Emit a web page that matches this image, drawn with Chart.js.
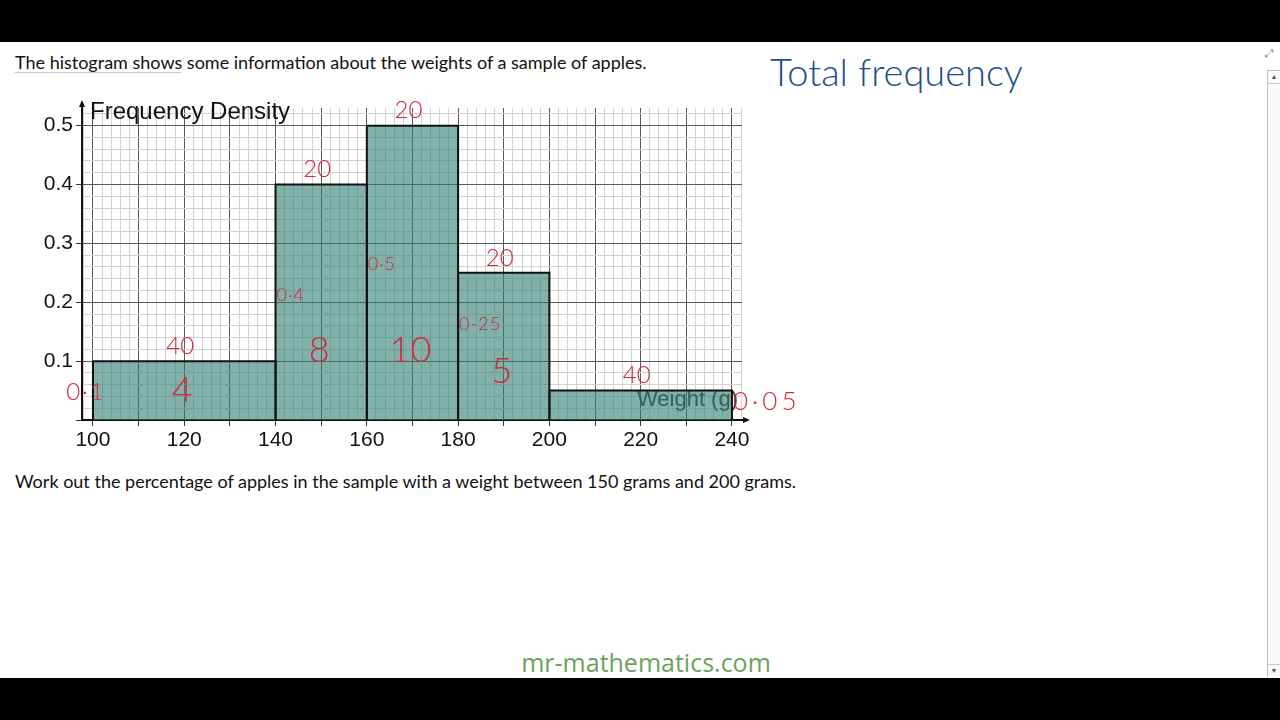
<!DOCTYPE html>
<html>
<head>
<meta charset="utf-8">
<script src="https://cdn.jsdelivr.net/npm/chart.js@4"></script>
<style>
  html, body { margin: 0; padding: 0; background: #000; }
  #page { position: absolute; left: 0; top: 42px; width: 1280px; height: 636px; background: #fff; overflow: hidden; }
  #chart { position: absolute; left: 0; top: 0; z-index: 2; }
  .q { position: absolute; left: 15px; font: 18px "Lato", "Open Sans", sans-serif; color: #111; white-space: nowrap; }
  #q1 { top: 9px; }
  #q1u { position: absolute; left: 15px; top: 30px; width: 166px; height: 1px; background: #c9c9c9; }
  #q2 { top: 428px; }
  #note { position: absolute; left: 770px; top: 6px; font: 300 38px "Lato", sans-serif; color: #1d4d8c; white-space: nowrap; }
  #site { position: absolute; left: 0; width: 1292px; top: 603px; text-align: center; font: 25px "Open Sans", sans-serif; color: #6aa35c; }
  #scroll { position: absolute; left: 1267px; top: 28px; width: 12px; height: 606px; border-left: 1px solid #bdbdbd; border-top: 1px solid #bdbdbd; background: #fafafa; }
  #scroll .up, #scroll .dn { position: absolute; left: 0; width: 12px; height: 12px; font-size: 7px; color: #555; text-align: center; line-height: 12px; }
  #scroll .up { top: 0; border-bottom: 1px solid #ccc; }
  #scroll .dn { bottom: 0; border-top: 1px solid #ccc; }
  #expand { position: absolute; left: 1265px; top: 5px; font-size: 11px; color: #888; }
</style>
</head>
<body>
<div id="page">
  <div class="q" id="q1">The histogram shows some information about the weights of a sample of apples.</div>
  <div id="q1u"></div>
  <div class="q" id="q2">Work out the percentage of apples in the sample with a weight between 150 grams and 200 grams.</div>
  <div id="note">Total frequency</div>
  <div id="site">mr-mathematics.com</div>
  <div id="expand">⤢</div>
  <div id="scroll"><div class="up">▲</div><div class="dn">▼</div></div>
</div>
<canvas id="chart" width="820" height="480"></canvas>
<script>
// histogram data (weight classes in grams)
const binStarts = [100, 140, 160, 180, 200];
const binEnds   = [140, 160, 180, 200, 240];
const density   = [0.1, 0.4, 0.5, 0.25, 0.05];

// handwritten working on the video
const widthNotes   = ['40', '20', '20', '20', '40'];
const freqNotes    = ['4', '8', '10', '5', ''];
const densityNotes = ['0·1', '0·4', '0·5', '0-25', '0·05'];

const RED = '#d8263a';
const HAND = '"Lato", "DejaVu Sans", sans-serif';
const AXIS_FONT = '"Liberation Sans", Arial, sans-serif';

const isMajorX = v => Math.round(v) % 10 === 0;
const isMajorY = v => Math.round(v * 100) % 10 === 0;

// one closed outline per bar, filled down to zero
const datasets = binStarts.map((x0, i) => ({
  data: [
    { x: x0, y: 0 }, { x: x0, y: density[i] },
    { x: binEnds[i], y: density[i] }, { x: binEnds[i], y: 0 }
  ],
  showLine: true,
  fill: 'origin',
  backgroundColor: 'rgba(45,125,110,0.6)',
  borderColor: '#111',
  borderWidth: 2,
  pointRadius: 0,
  tension: 0
}));

const axisLabels = {
  id: 'axisLabels',
  beforeDatasetsDraw(chart) {
    const { ctx, chartArea } = chart;
    ctx.save();
    ctx.font = '22px ' + AXIS_FONT;
    ctx.fillStyle = '#3a3a3a';
    ctx.textBaseline = 'middle';
    ctx.textAlign = 'right';
    ctx.fillText('Weight (g)', chartArea.right - 4, chartArea.bottom - 20);
    ctx.restore();
  },
  afterDraw(chart) {
    const { ctx, chartArea } = chart;
    const { left, right, top, bottom } = chartArea;
    ctx.save();
    ctx.strokeStyle = '#111';
    ctx.fillStyle = '#111';
    ctx.lineWidth = 1.5;
    // axis arrows
    ctx.beginPath();
    ctx.moveTo(left, top); ctx.lineTo(left, top - 6);
    ctx.moveTo(right, bottom); ctx.lineTo(right + 4, bottom);
    ctx.stroke();
    ctx.beginPath();
    ctx.moveTo(left, top - 8); ctx.lineTo(left - 3, top - 1); ctx.lineTo(left + 3, top - 1); ctx.closePath();
    ctx.fill();
    ctx.beginPath();
    ctx.moveTo(right + 8, bottom); ctx.lineTo(right + 1, bottom - 3); ctx.lineTo(right + 1, bottom + 3); ctx.closePath();
    ctx.fill();

    ctx.font = '24px ' + AXIS_FONT;
    ctx.textBaseline = 'middle';
    ctx.textAlign = 'left';
    ctx.fillText('Frequency Density', left + 8, top + 4);
    ctx.restore();
  }
};

// teacher's red working, placed against each bar
const handNotes = {
  id: 'handNotes',
  afterDraw(chart) {
    const { ctx, scales: { x, y } } = chart;
    const zero = y.getPixelForValue(0);
    const last = binStarts.length - 1;
    ctx.save();
    ctx.fillStyle = RED;
    ctx.textBaseline = 'middle';
    binStarts.forEach((x0, i) => {
      const px0 = x.getPixelForValue(x0);
      const px1 = x.getPixelForValue(binEnds[i]);
      const mid = (px0 + px1) / 2;
      const top = y.getPixelForValue(density[i]);
      const h = zero - top;

      ctx.letterSpacing = '0px';
      ctx.textAlign = 'center';
      ctx.font = '300 24px ' + HAND;
      ctx.fillText(widthNotes[i], mid - 4, top - 15);

      if (freqNotes[i]) {
        ctx.font = '300 36px ' + HAND;
        const fy = h < 80 ? top + h / 2 : zero - Math.min(70, h / 3);
        ctx.fillText(freqNotes[i], mid - 2, fy);
      }

      if (i === 0) {
        ctx.font = '300 24px ' + HAND;
        ctx.letterSpacing = '2px';
        ctx.fillText(densityNotes[i], px0 - 7, top + h / 2 + 2);
      } else if (i === last) {
        ctx.textAlign = 'left';
        ctx.font = '300 26px ' + HAND;
        ctx.letterSpacing = '4px';
        ctx.fillText(densityNotes[i], px1 + 1, top + 11);
      } else {
        ctx.textAlign = 'left';
        ctx.font = '300 18px ' + HAND;
        ctx.letterSpacing = '1px';
        ctx.fillText(densityNotes[i], px0 + 1, top + h * 0.47 - (h < 200 ? 18 : 0));
      }
    });
    ctx.restore();
  }
};

new Chart(document.getElementById('chart'), {
  type: 'scatter',
  data: { datasets },
  plugins: [axisLabels, handNotes],
  options: {
    responsive: false,
    animation: false,
    layout: { padding: { left: 0, right: 78, top: 108, bottom: 0 } },
    plugins: { legend: { display: false }, tooltip: { enabled: false } },
    scales: {
      x: {
        type: 'linear',
        min: 97.6,
        max: 242.2,
        afterFit: s => { s.height = 60; },
        border: { color: '#111', width: 2 },
        grid: {
          color: c => isMajorX(c.tick.value) ? '#585858' : '#d2d2d2',
          tickColor: c => isMajorX(c.tick.value) ? '#333' : 'transparent',
          tickLength: 6
        },
        ticks: {
          stepSize: 2,
          includeBounds: false,
          autoSkip: false,
          maxRotation: 0,
          minRotation: 0,
          padding: 2,
          color: '#111',
          font: { family: AXIS_FONT, size: 21 },
          callback: v => (Math.round(v) % 20 === 0 && v >= 100 && v <= 240) ? String(Math.round(v)) : ''
        }
      },
      y: {
        min: 0,
        max: 0.53,
        afterFit: s => { s.width = 82; },
        border: { color: '#111', width: 2 },
        grid: {
          color: c => isMajorY(c.tick.value) ? '#585858' : '#d2d2d2',
          tickColor: c => isMajorY(c.tick.value) ? '#333' : 'transparent',
          tickLength: 6
        },
        ticks: {
          stepSize: 0.02,
          includeBounds: false,
          autoSkip: false,
          padding: 3,
          color: '#111',
          font: { family: AXIS_FONT, size: 21 },
          callback: v => {
            const k = Math.round(v * 100);
            return (k % 10 === 0 && k > 0) ? (k / 100).toFixed(1) : '';
          }
        }
      }
    }
  }
});
</script>
</body>
</html>
